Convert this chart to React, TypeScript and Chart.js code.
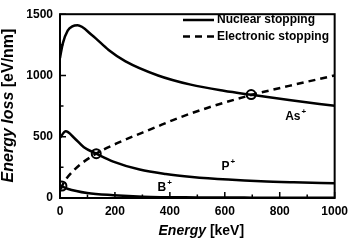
import React, { useEffect, useRef } from "react";
import { Chart, registerables } from "chart.js";

Chart.register(...registerables);

// Energy [keV] / energy loss [eV/nm]
const asNuclearE = [0, 10, 28, 45, 64, 118, 177, 237, 357, 476, 596, 697, 834, 1000];
const asNuclearS = [1143, 1260, 1365, 1400, 1409, 1326, 1208, 1117, 1000, 925, 875, 842, 800, 752];

const pNuclearE = [0, 21, 51, 87, 132, 194, 290, 385, 481, 612, 732, 851, 1000];
const pNuclearS = [492, 544, 492, 414, 362, 297, 232, 196, 172, 150, 136, 128, 121];

const bNuclearE = [0, 27, 99, 194, 302, 500, 700, 1000];
const bNuclearS = [101, 76, 41, 23, 11, 5, 3, 2];

const electronicE = [3, 8, 50, 132, 206, 349, 416, 536, 696, 834, 1000];
const electronicS = [72, 101, 225, 362, 445, 578, 640, 735, 840, 915, 1000];

const crossE = [7, 132, 696];
const crossS = [98, 362, 844];

const ionLabels = ["As", "P", "B"];
const ionLabelE = [855, 610, 378];
const ionLabelS = [664, 258, 86];

const legendLabels = ["Nuclear stopping", "Electronic stopping"];

const xTicks = [0, 200, 400, 600, 800, 1000];
const xMinor = [100, 300, 500, 700, 900];
const yTicks = [0, 500, 1000, 1500];
const yMinor = [250, 750, 1250];

const FONT = "'Liberation Sans', Arial, Helvetica, sans-serif";

const toPts = (xs: number[], ys: number[]) => xs.map((x, i) => ({ x, y: ys[i] }));

const decorPlugin = {
  id: "decor",
  afterDatasetsDraw(chart: any) {
    const ctx = chart.ctx as CanvasRenderingContext2D;
    const { left, right, top, bottom } = chart.chartArea;
    const xs = chart.scales.x;
    const ys = chart.scales.y;
    ctx.save();
    ctx.strokeStyle = "#000";
    ctx.lineWidth = 2;
    ctx.strokeRect(left, top, right - left, bottom - top);
    ctx.lineWidth = 1.5;
    ctx.beginPath();
    xTicks.forEach((v) => {
      const p = xs.getPixelForValue(v);
      ctx.moveTo(p, bottom);
      ctx.lineTo(p, bottom - 6);
    });
    xMinor.forEach((v) => {
      const p = xs.getPixelForValue(v);
      ctx.moveTo(p, bottom);
      ctx.lineTo(p, bottom - 3.5);
    });
    yTicks.forEach((v) => {
      const p = ys.getPixelForValue(v);
      ctx.moveTo(left, p);
      ctx.lineTo(left + 6, p);
    });
    yMinor.forEach((v) => {
      const p = ys.getPixelForValue(v);
      ctx.moveTo(left, p);
      ctx.lineTo(left + 3.5, p);
    });
    ctx.stroke();

    // ion labels
    ctx.fillStyle = "#000";
    ctx.textBaseline = "middle";
    ionLabels.forEach((t, i) => {
      const px = xs.getPixelForValue(ionLabelE[i]);
      const py = ys.getPixelForValue(ionLabelS[i]);
      ctx.font = `bold 12px ${FONT}`;
      const w = ctx.measureText(t).width;
      ctx.textAlign = "left";
      ctx.fillText(t, px - w / 2 - 2, py);
      ctx.font = `bold 8px ${FONT}`;
      ctx.fillText("+", px + w / 2 - 1, py - 5);
    });

    // legend
    const lx0 = 183;
    const lx1 = 214;
    const rows = [20, 36.5];
    ctx.lineWidth = 2.5;
    rows.forEach((ry, i) => {
      ctx.beginPath();
      ctx.setLineDash(i === 0 ? [] : [7, 5]);
      ctx.moveTo(lx0, ry);
      ctx.lineTo(lx1, ry);
      ctx.stroke();
      ctx.setLineDash([]);
      ctx.font = `bold 12px ${FONT}`;
      ctx.textAlign = "left";
      ctx.fillText(legendLabels[i], 217, ry);
    });

    // x title
    ctx.font = `italic bold 14px ${FONT}`;
    const a = "Energy";
    const wa = ctx.measureText(a).width;
    ctx.font = `bold 14px ${FONT}`;
    const b = " [keV]";
    const wb = ctx.measureText(b).width;
    const cx = (left + right) / 2 + 4;
    const sx = cx - (wa + wb) / 2;
    ctx.textAlign = "left";
    ctx.font = `italic bold 14px ${FONT}`;
    ctx.fillText(a, sx, 231);
    ctx.font = `bold 14px ${FONT}`;
    ctx.fillText(b, sx + wa, 231);

    // y title
    ctx.translate(9, 105.5);
    ctx.rotate(-Math.PI / 2);
    ctx.font = `italic bold 16px ${FONT}`;
    const c = "Energy loss";
    const wc = ctx.measureText(c).width;
    ctx.font = `bold 16px ${FONT}`;
    const d = " [eV/nm]";
    const wd = ctx.measureText(d).width;
    const sy = -(wc + wd) / 2;
    ctx.font = `italic bold 16px ${FONT}`;
    ctx.fillText(c, sy, 0);
    ctx.font = `bold 16px ${FONT}`;
    ctx.fillText(d, sy + wc, 0);
    ctx.restore();
  },
};

export default function App() {
  const ref = useRef<HTMLCanvasElement | null>(null);
  useEffect(() => {
    if (!ref.current) return;
    const lineBase = {
      borderColor: "#000",
      borderWidth: 2.5,
      pointRadius: 0,
      fill: false,
      cubicInterpolationMode: "monotone" as const,
    };
    const chart = new Chart(ref.current, {
      type: "line",
      data: {
        datasets: [
          { ...lineBase, label: "As", data: toPts(asNuclearE, asNuclearS) },
          { ...lineBase, label: "P", data: toPts(pNuclearE, pNuclearS) },
          { ...lineBase, label: "B", data: toPts(bNuclearE, bNuclearS) },
          { ...lineBase, label: "Electronic", borderDash: [7, 5], data: toPts(electronicE, electronicS) },
          {
            label: "cross",
            data: toPts(crossE, crossS),
            showLine: false,
            pointRadius: 4.5,
            pointBorderWidth: 2,
            pointBorderColor: "#000",
            pointBackgroundColor: "#fff",
          } as any,
        ],
      },
      options: {
        animation: false,
        responsive: false,
        devicePixelRatio: 1,
        layout: { padding: { left: 0, right: 15, top: 6, bottom: 0 } },
        plugins: { legend: { display: false }, tooltip: { enabled: false } },
        scales: {
          x: {
            type: "linear",
            min: 0,
            max: 1000,
            grid: { display: false, drawTicks: false },
            border: { display: false },
            ticks: {
              stepSize: 200,
              padding: 6,
              color: "#000",
              maxRotation: 0,
              callback: (v: any) => String(v),
              font: { family: FONT, size: 12, weight: "bold" },
            },
            afterFit: (s: any) => {
              s.height = 43;
            },
          },
          y: {
            type: "linear",
            min: 0,
            max: 1500,
            grid: { display: false, drawTicks: false },
            border: { display: false },
            ticks: {
              stepSize: 500,
              padding: 7,
              color: "#000",
              callback: (v: any) => String(v),
              font: { family: FONT, size: 12, weight: "bold" },
            },
            afterFit: (s: any) => {
              s.width = 60;
            },
          },
        },
      },
      plugins: [decorPlugin],
    });
    return () => chart.destroy();
  }, []);
  return (
    <div style={{ position: "absolute", left: 0, top: 0, width: 354, height: 241, background: "#fff" }}>
      <canvas ref={ref} width={354} height={241} style={{ display: "block" }} />
    </div>
  );
}
